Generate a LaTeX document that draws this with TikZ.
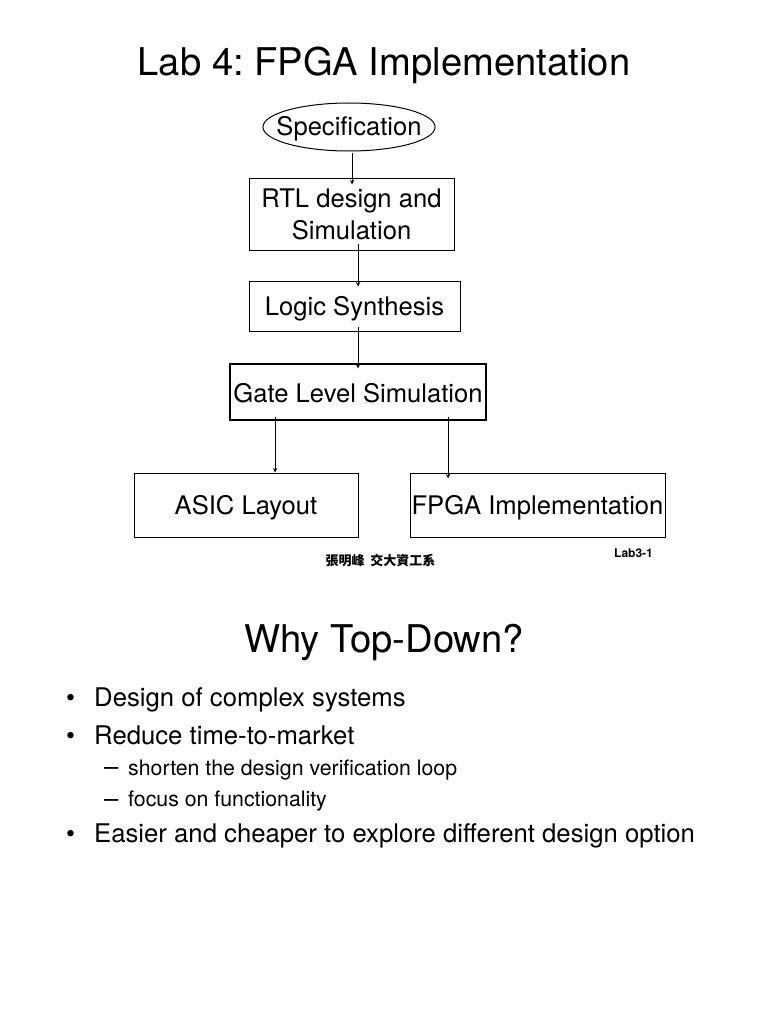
\documentclass[tikz,border=0pt]{standalone}
\usepackage{fontspec}
\setmainfont{TeX Gyre Heros}
\newfontfamily\cjkfont{Noto Sans CJK TC}
\usetikzlibrary{shapes.geometric}
\begin{document}
\begin{tikzpicture}[x=1pt,y=-1pt]
	\tikzstyle{unit} = [rectangle,draw,line width=1pt,inner sep=0pt,align=center,text height=18pt,text depth=0pt,font=\fontsize{25.6}{31.5}\selectfont]
	\tikzstyle{flow} = [->,>=stealth,line width=1pt]
	\tikzstyle{head} = [anchor=base,inner sep=0pt,font=\fontsize{38.2}{42}\selectfont]
	\tikzstyle{item} = [anchor=base west,inner sep=0pt,font=\fontsize{25.7}{30}\selectfont]
	\tikzstyle{subitem} = [anchor=base west,inner sep=0pt,font=\fontsize{21.3}{25}\selectfont]
	\useasboundingbox (0,0) rectangle (768,1024);

		\node[head] (title1) at (384,76){Lab 4:\ FPGA Implementation};

		\node[unit,ellipse,inner xsep=-11.7pt,minimum width=172pt,minimum height=48pt] (spec) at (349,127){Specification};
		\node[unit,text height=49.5pt,minimum width=205pt,minimum height=71pt] (rtl) at (351.5,214.5){RTL design and\\Simulation};
		\node[unit,minimum width=211pt,minimum height=50pt] (logic) at (354.5,306){Logic Synthesis};
		\node[unit,line width=1.2pt,text height=20pt,minimum width=256pt,minimum height=56pt] (gate) at (358,392){Gate Level Simulation};
		\node[unit,minimum width=224pt,minimum height=64pt] (asic) at (246,505){ASIC Layout};
		\node[unit,minimum width=255pt,minimum height=64pt] (fpga) at (537.5,505){FPGA Implementation};

		\draw[flow] ([xshift=3pt,yshift=-2pt]spec.south) -- ([xshift=0.5pt,yshift=-6pt]rtl.north);
		\draw[flow] ([xshift=6.5pt,yshift=7pt]rtl.south) -- ([xshift=3.5pt,yshift=-6pt]logic.north);
		\draw[flow] ([xshift=3.5pt,yshift=5pt]logic.south) -- ([yshift=-5pt]gate.north);
		\draw[flow] ([xshift=-83pt,yshift=4pt]gate.south) -- ([xshift=29pt]asic.north);
		\draw[flow] ([xshift=90pt,yshift=4pt]gate.south) -- ([xshift=-89.5pt,yshift=-6pt]fpga.north);

		\node[anchor=base,inner sep=0pt,font=\cjkfont\bfseries\fontsize{13}{15}\selectfont] (author) at (380.5,565){張明峰\ \ 交大資工系};
		\node[anchor=base,inner sep=0pt,font=\bfseries\fontsize{12}{14}\selectfont] (page) at (633.5,557){Lab3-1};

		\node[head] (title2) at (384,652){Why Top-Down?};

		\node[item] (b1) at (66,706){•};
		\node[item] (t1) at (94,706){Design of complex systems};
		\node[item] (b2) at (66,744){•};
		\node[item] (t2) at (94,744){Reduce time-to-market};
		\node[item] (b3) at (104,775){–};
		\node[subitem] (t3) at (128,775){shorten the design verification loop};
		\node[item] (b4) at (104,807.5){–};
		\node[subitem] (t4) at (128,806){focus on functionality};
		\node[item] (b5) at (66,842){•};
		\node[item] (t5) at (94,842){Easier and cheaper to explore different design option};
\end{tikzpicture}
\end{document}
